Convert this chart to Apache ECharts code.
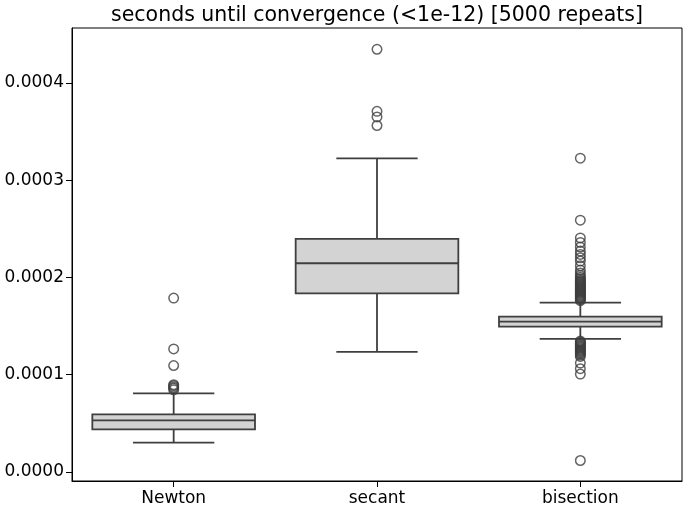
<!DOCTYPE html>
<html>
<head>
<meta charset="utf-8">
<script src="https://cdn.jsdelivr.net/npm/echarts@6/dist/echarts.min.js"></script>
<style>html,body{margin:0;padding:0;background:#fff}#c{width:685px;height:508px}</style>
</head>
<body>
<div id="c"></div>
<script>
// categories
const categories = ['Newton', 'secant', 'bisection'];
// box stats: [whiskerLow, Q1, median, Q3, whiskerHigh]
const newtonStats = [0.0000300, 0.0000436, 0.0000528, 0.0000590, 0.0000806];
const secantStats = [0.0001234, 0.0001835, 0.0002145, 0.0002395, 0.0003224];
const bisectionStats = [0.0001367, 0.0001493, 0.0001545, 0.0001596, 0.0001739];
// outliers
const newtonOutliers = [0.0001787, 0.0001264, 0.0001093, 0.0000895, 0.0000885, 0.000087, 0.0000858, 0.0000843];
const secantOutliers = [0.0004346, 0.0003708, 0.0003650, 0.0003562];
const bisectionOutliers = [
  0.0003226, 0.0002588, 0.0002406, 0.0002359, 0.0002311, 0.0002270, 0.0002236, 0.0002201,
  0.0002167, 0.0002119, 0.0002075, 0.0002044, 0.0002020, 0.0002000, 0.0001985, 0.0001970,
  0.0001960, 0.0001950, 0.0001940, 0.0001930, 0.0001920, 0.0001910, 0.0001900, 0.0001890,
  0.0001880, 0.0001870, 0.0001860, 0.0001850, 0.0001840, 0.0001830, 0.0001820, 0.0001810,
  0.0001800, 0.0001790, 0.0001780, 0.0001770, 0.0001760,
  0.0001345, 0.0001335, 0.0001325, 0.0001315, 0.0001305, 0.0001295, 0.0001285, 0.0001275,
  0.0001265, 0.0001255, 0.0001245, 0.0001235, 0.0001225, 0.0001215, 0.0001200, 0.0001186,
  0.0001118, 0.0001060, 0.0001005, 0.0000116
];
// tick values
const yTicks = [0, 0.0001, 0.0002, 0.0003, 0.0004];
const yMin = -0.0000095, yMax = 0.0004565;

const allStats = [newtonStats, secantStats, bisectionStats];
const allOutliers = [newtonOutliers, secantOutliers, bisectionOutliers];

const boxData = allStats.map((s, i) => [i].concat(s));
const outlierData = [];
allOutliers.forEach((arr, i) => arr.forEach(v => outlierData.push([i, v])));

const LINE = '#3f3f3f';
const FILL = '#d3d3d3';

const chart = echarts.init(document.getElementById('c'), null, {renderer: 'canvas'});
chart.setOption({
  animation: false,
  backgroundColor: '#fff',
  textStyle: {fontFamily: 'DejaVu Sans'},
  title: {
    text: 'seconds until convergence (<1e-12) [5000 repeats]',
    left: 372, top: 0, textAlign: 'center',
    textStyle: {fontFamily: 'DejaVu Sans', fontSize: 20.5, fontWeight: 'normal', color: '#000'}
  },
  grid: {left: 72, right: 3, top: 28, bottom: 27, show: true, borderColor: '#000', borderWidth: 1, containLabel: false},
  xAxis: {
    type: 'category', data: categories,
    axisLine: {show: true, onZero: false, lineStyle: {color: '#000', width: 1}},
    axisTick: {show: true, alignWithLabel: true, length: 6, lineStyle: {color: '#000'}},
    axisLabel: {color: '#000', fontSize: 17, margin: 9, fontFamily: 'DejaVu Sans'},
    splitLine: {show: false}
  },
  yAxis: {
    type: 'value', min: yMin, max: yMax,
    axisLine: {show: true, onZero: false, lineStyle: {color: '#000', width: 1}},
    axisTick: {show: true, length: 6, customValues: yTicks, lineStyle: {color: '#000'}},
    axisLabel: {color: '#000', fontSize: 17, margin: 8, fontFamily: 'DejaVu Sans',
      customValues: yTicks, formatter: v => v.toFixed(4)},
    splitLine: {show: false}
  },
  series: [
    {
      type: 'custom',
      data: boxData,
      encode: {x: 0, y: [1, 2, 3, 4, 5]},
      renderItem: function (params, api) {
        const x = api.value(0);
        const band = api.size([1, 0])[0];
        const hw = band * 0.4;
        const cw = band * 0.2;
        const c = api.coord([x, api.value(3)]);
        const cx = c[0];
        const yLo = api.coord([x, api.value(1)])[1];
        const yQ1 = api.coord([x, api.value(2)])[1];
        const yMed = c[1];
        const yQ3 = api.coord([x, api.value(4)])[1];
        const yHi = api.coord([x, api.value(5)])[1];
        const ls = {stroke: LINE, lineWidth: 1.8};
        return {
          type: 'group',
          children: [
            {type: 'line', shape: {x1: cx, y1: yQ1, x2: cx, y2: yLo}, style: ls},
            {type: 'line', shape: {x1: cx, y1: yQ3, x2: cx, y2: yHi}, style: ls},
            {type: 'line', shape: {x1: cx - cw, y1: yLo, x2: cx + cw, y2: yLo}, style: ls},
            {type: 'line', shape: {x1: cx - cw, y1: yHi, x2: cx + cw, y2: yHi}, style: ls},
            {type: 'rect', shape: {x: cx - hw, y: yQ3, width: 2 * hw, height: yQ1 - yQ3},
              style: {fill: FILL, stroke: LINE, lineWidth: 1.8}},
            {type: 'line', shape: {x1: cx - hw, y1: yMed, x2: cx + hw, y2: yMed}, style: ls}
          ]
        };
      },
      z: 2
    },
    {
      type: 'scatter',
      data: outlierData,
      symbol: 'circle',
      symbolSize: 9.5,
      itemStyle: {color: 'rgba(0,0,0,0)', borderColor: LINE, borderWidth: 1.5},
      z: 3
    }
  ]
});
</script>
</body>
</html>
